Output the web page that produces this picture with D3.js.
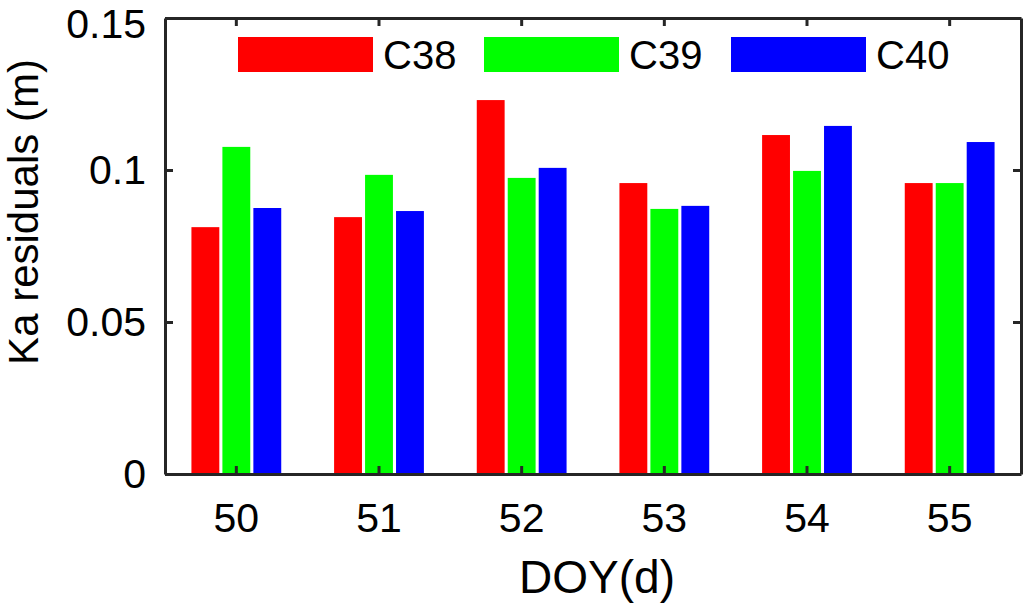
<!DOCTYPE html>
<html lang="en"><head>
<meta charset="utf-8">
<title>Ka residuals</title>
<script src="https://cdn.jsdelivr.net/npm/d3@7"></script>
<style>
  body { margin: 0; background: #fff; }
  text { font-family: "Liberation Sans", Arial, sans-serif; fill: #000; }
</style>
</head>
<body>
<svg id="chart" width="1025" height="605"></svg>
<script>
// data
const days = ["50", "51", "52", "53", "54", "55"];
const series = ["C38", "C39", "C40"];
const colors = ["#ff0000", "#00ff00", "#0000ff"];
const c38 = [0.0812, 0.0845, 0.1230, 0.0957, 0.1115, 0.0957];
const c39 = [0.1076, 0.0984, 0.0974, 0.0872, 0.0997, 0.0957];
const c40 = [0.0875, 0.0865, 0.1007, 0.0882, 0.1145, 0.1092];
const yTicks = [0, 0.05, 0.1, 0.15];

const values = [c38, c39, c40];
const svg = d3.select("#chart");
const m = {left: 165, right: 1021, top: 18, bottom: 474};
const axisColor = "#262626";

let x = d3.scaleBand().domain(days).range([m.left, m.right]).paddingInner(0).paddingOuter(0);
let xs = d3.scaleBand().domain(series).range([0, 96]).padding(0.1);
let y = d3.scaleLinear().domain([0, 0.15]).range([m.bottom, m.top]);

// bars
let groups = svg.selectAll("g.day")
  .data(days).enter()
  .append("g")
  .attr("class", "day")
  .attr("transform", d => `translate(${x(d) + x.bandwidth() / 2 - 48},0)`);

groups.selectAll("rect")
  .data((d, i) => series.map((s, j) => ({s, j, v: values[j][i]})))
  .enter().append("rect")
  .attr("x", d => xs(d.s))
  .attr("width", xs.bandwidth())
  .attr("y", d => y(d.v))
  .attr("height", d => y(0) - y(d.v))
  .attr("fill", d => colors[d.j]);

// axes (box with inward ticks, matlab style)
const tick = 8;
let xAxisB = d3.axisBottom(x).tickSizeInner(-tick).tickSizeOuter(0).tickPadding(29);
let xAxisT = d3.axisTop(x).tickSizeInner(-tick).tickSizeOuter(0).tickFormat("");
let yAxisL = d3.axisLeft(y).tickValues(yTicks).tickSizeInner(-tick).tickSizeOuter(0).tickPadding(19)
  .tickFormat(d => d === 0 ? "0" : String(+d.toFixed(2)));
let yAxisR = d3.axisRight(y).tickValues(yTicks).tickSizeInner(-tick).tickSizeOuter(0).tickFormat("");

function style(g) {
  g.select(".domain").attr("stroke", axisColor).attr("stroke-width", 3);
  g.selectAll(".tick line").attr("stroke", axisColor).attr("stroke-width", 3);
  g.selectAll(".tick text").style("font-family", "'Liberation Sans', Arial, sans-serif")
    .style("font-size", "41px").attr("fill", "#000");
}

svg.append("g").attr("transform", `translate(0,${m.bottom})`).call(xAxisB).call(style);
svg.append("g").attr("transform", `translate(0,${m.top})`).call(xAxisT).call(style);
svg.append("g").attr("transform", `translate(${m.left},0)`).call(yAxisL).call(style);
svg.append("g").attr("transform", `translate(${m.right},0)`).call(yAxisR).call(style);

// nudge the top y label down so it stays inside the page
svg.selectAll("text").filter(function() { return this.textContent === "0.15"; }).attr("dy", "0.47em");

// axis labels
svg.append("text")
  .attr("x", 597)
  .attr("y", 593)
  .attr("text-anchor", "middle")
  .style("font-size", "46px")
  .text("DOY(d)");

svg.append("text")
  .attr("transform", "translate(38,212) rotate(-90)")
  .attr("text-anchor", "middle")
  .style("font-size", "42px")
  .text("Ka residuals (m)");

// legend
const legX = [238, 484, 731];
let leg = svg.selectAll("g.leg")
  .data(series).enter()
  .append("g")
  .attr("class", "leg")
  .attr("transform", (d, i) => `translate(${legX[i]},37)`);
leg.append("rect")
  .attr("width", 135).attr("height", 35)
  .attr("fill", (d, i) => colors[i]);
leg.append("text")
  .attr("x", 145).attr("y", 32)
  .style("font-size", "40px")
  .text(d => d);
</script>
</body>
</html>
